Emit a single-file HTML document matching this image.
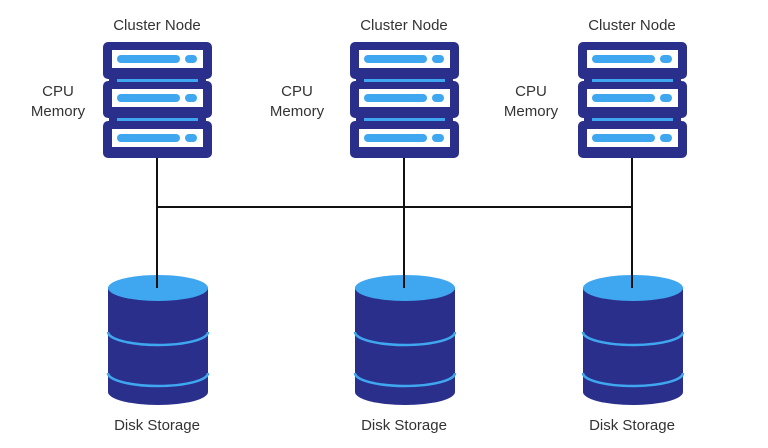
<!DOCTYPE html>
<html><head><style>body{margin:0;background:#fff}</style></head><body>
<svg width="768" height="443" viewBox="0 0 768 443" xmlns="http://www.w3.org/2000/svg" font-family="Liberation Sans, sans-serif" font-size="15" fill="#333">
<defs>
<g id="srv">
 <rect x="0" y="0" width="109" height="37" rx="5" fill="#2b2f8c"/>
 <rect x="0" y="39" width="109" height="37" rx="5" fill="#2b2f8c"/>
 <rect x="0" y="79" width="109" height="37" rx="5" fill="#2b2f8c"/>
 <rect x="6" y="35" width="97" height="6" fill="#2b2f8c"/>
 <rect x="6" y="75" width="97" height="6" fill="#2b2f8c"/>
 <rect x="14" y="37" width="81" height="3" fill="#3fa6f0"/>
 <rect x="14" y="76" width="81" height="3" fill="#3fa6f0"/>
 <g id="slot"><rect x="9" y="8" width="91" height="18" fill="#fff"/><rect x="14" y="13" width="63" height="8" rx="4" fill="#3fa6f0"/><rect x="82" y="13" width="12" height="8" rx="4" fill="#3fa6f0"/></g>
 <use href="#slot" y="39"/><use href="#slot" y="79"/>
</g>
<g id="cyl">
 <path d="M0,13 V117 A50,13 0 0 0 100,117 V13 Z" fill="#2b2f8c"/>
 <path d="M0,57 A50,13 0 0 0 100,57" fill="none" stroke="#3fa6f0" stroke-width="2.5"/>
 <path d="M0,98 A50,13 0 0 0 100,98" fill="none" stroke="#3fa6f0" stroke-width="2.5"/>
 <ellipse cx="50" cy="13" rx="50" ry="13" fill="#3fa6f0"/>
</g>
</defs>
<g stroke="#111" stroke-width="2">
 <line x1="157" y1="158" x2="157" y2="288"/>
 <line x1="404" y1="158" x2="404" y2="288"/>
 <line x1="632" y1="158" x2="632" y2="288"/>
 <line x1="157" y1="207" x2="632" y2="207"/>
</g>
<use href="#srv" x="103" y="42"/><use href="#srv" x="350" y="42"/><use href="#srv" x="578" y="42"/>
<use href="#cyl" x="108" y="275"/><use href="#cyl" x="355" y="275"/><use href="#cyl" x="583" y="275"/>
<g stroke="#111" stroke-width="2">
 <line x1="157" y1="265" x2="157" y2="288"/>
 <line x1="404" y1="265" x2="404" y2="288"/>
 <line x1="632" y1="265" x2="632" y2="288"/>
</g>
<g text-anchor="middle">
 <text x="157" y="30">Cluster Node</text><text x="404" y="30">Cluster Node</text><text x="632" y="30">Cluster Node</text>
 <text x="58" y="96">CPU</text><text x="58" y="116">Memory</text>
 <text x="297" y="96">CPU</text><text x="297" y="116">Memory</text>
 <text x="531" y="96">CPU</text><text x="531" y="116">Memory</text>
 <text x="157" y="430">Disk Storage</text><text x="404" y="430">Disk Storage</text><text x="632" y="430">Disk Storage</text>
</g>
</svg>
</body></html>
